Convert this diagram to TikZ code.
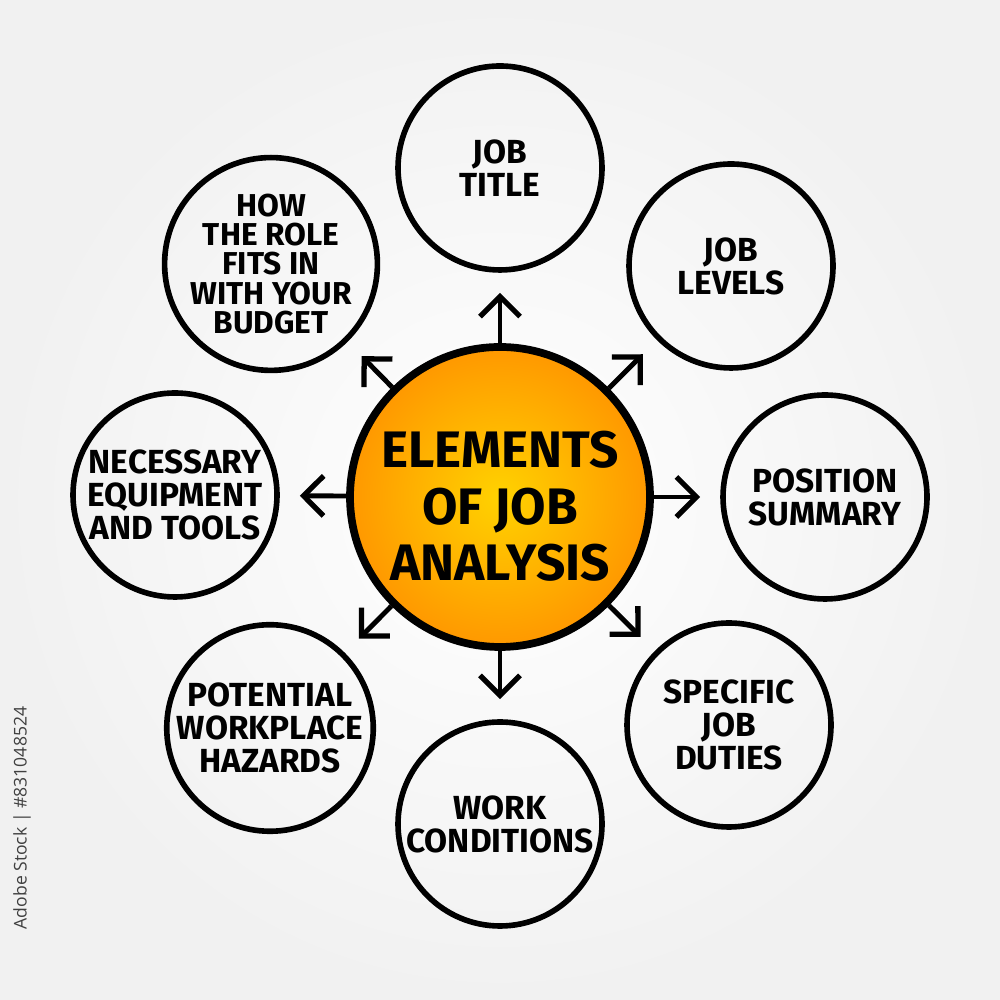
\documentclass[tikz,border=0pt]{standalone}
\usepackage{fontspec}
\setmainfont{Fira Sans}
\newfontfamily\stockfont{Open Sans}
\usepackage{tikz}
\usetikzlibrary{arrows.meta}

\definecolor{hubyellow}{HTML}{FFD200}
\definecolor{huborange}{HTML}{FF9800}
\definecolor{backgrey}{HTML}{F1F1F1}

\tikzset{
  topic/.style={circle,draw=black,line width=1.6pt,minimum size=2.04cm,inner sep=0pt,align=center,
    font=\fontsize{9.5}{9.4}\selectfont\bfseries},
  hub/.style={circle,draw=black,line width=2.2pt,minimum size=3cm,inner sep=0pt,align=center,
    shading=radial,inner color=hubyellow,outer color=huborange,
    font=\fontsize{14.6}{16.2}\selectfont\bfseries},
  spoke/.style={-{Straight Barb[length=2mm,width=4mm,line width=1.5pt]},line width=1.4pt,shorten >=0.2cm}
}

\begin{document}
\begin{tikzpicture}
\useasboundingbox (0,0) rectangle (10,10);
\shade[inner color=white,outer color=backgrey] (0,0) rectangle (10,10);

\node[hub] (hub) at (5.00,5.03) {\rule{0pt}{0.55cm}ELEMENTS\\OF JOB\\ANALYSIS};

\node[topic] (title) at (5.00,8.32) {JOB\\TITLE};
\node[topic] (levels) at (7.31,7.34) {JOB\\LEVELS};
\node[topic] (summary) at (8.25,5.03) {POSITION\\SUMMARY};
\node[topic] (duties) at (7.29,2.75) {SPECIFIC\\JOB\\DUTIES};
\node[topic] (conditions) at (5.00,1.76) {WORK\\CONDITIONS};
\node[topic] (hazards) at (2.70,2.72) {POTENTIAL\\WORKPLACE\\HAZARDS};
\node[topic] (equipment) at (1.75,5.05) {NECESSARY\\EQUIPMENT\\AND TOOLS};
\node[topic,font=\fontsize{9}{8.3}\selectfont\bfseries] (budget) at (2.71,7.36) {HOW\\THE ROLE\\FITS IN\\WITH YOUR\\BUDGET};

\draw[spoke] (hub) -- (title);
\draw[spoke] (hub) -- (levels);
\draw[spoke] (hub) -- (summary);
\draw[spoke] (hub) -- (duties);
\draw[spoke] (hub) -- (conditions);
\draw[spoke] (hub) -- (hazards);
\draw[spoke] (hub) -- (equipment);
\draw[spoke] (hub) -- (budget);

\node[rotate=90,text=black!75,font=\stockfont\fontsize{5}{6}\selectfont] (stockid) at (0.22,1.82) {Adobe Stock | \#831048524};
\end{tikzpicture}
\end{document}
